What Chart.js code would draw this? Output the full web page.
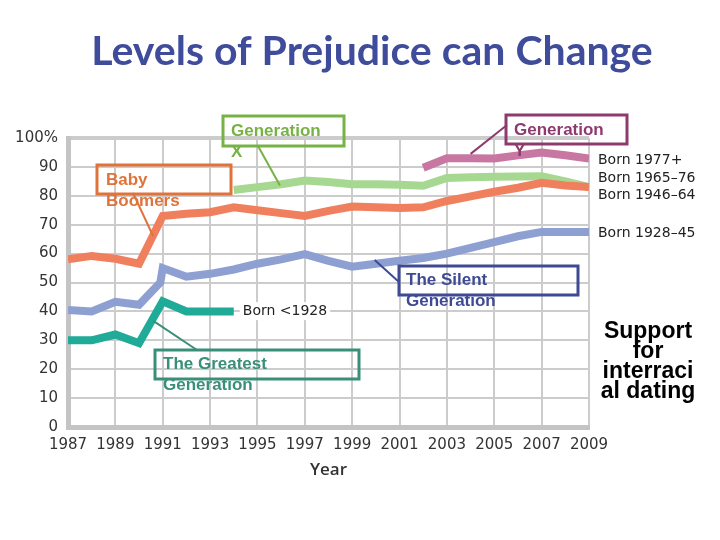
<!DOCTYPE html>
<html>
<head>
<meta charset="utf-8">
<script src="https://cdn.jsdelivr.net/npm/chart.js@4"></script>
<style>
  html, body { margin: 0; padding: 0; background: #fff; }
</style>
</head>
<body>
<canvas id="chart" width="720" height="540"></canvas>
<script>
// tick labels
const xTicks = [1987, 1989, 1991, 1993, 1995, 1997, 1999, 2001, 2003, 2005, 2007, 2009];

// Born <1928
const greatestYears = [1987, 1988, 1989, 1990, 1991, 1992, 1993, 1994];
const greatestVals = [30, 30, 32, 29, 43.5, 40, 40, 40];

// Born 1928-45
const silentYears = [1987, 1988, 1989, 1990, 1990.9, 1991, 1992, 1993, 1994, 1995, 1996, 1997, 1998, 1999, 2000, 2001, 2002, 2003, 2004, 2005, 2006, 2007, 2008, 2009];
const silentVals = [40.5, 40, 43.3, 42.3, 50, 55, 52, 53, 54.5, 56.5, 58, 59.8, 57.5, 55.5, 56.5, 57.5, 58.5, 60, 62, 64, 66, 67.5, 67.5, 67.5];

// Born 1946-64
const boomerYears = [1987, 1988, 1989, 1990, 1991, 1992, 1993, 1994, 1995, 1996, 1997, 1998, 1999, 2000, 2001, 2002, 2003, 2004, 2005, 2006, 2007, 2008, 2009];
const boomerVals = [58, 59.2, 58.2, 56.5, 73, 73.8, 74.3, 76, 75, 74, 73, 74.8, 76.3, 76, 75.8, 76, 78.2, 79.8, 81.4, 82.8, 84.5, 83.6, 83];

// Born 1965-76
const genXYears = [1994, 1995, 1996, 1997, 1998, 1999, 2000, 2001, 2002, 2003, 2004, 2005, 2006, 2007, 2008, 2009];
const genXVals = [82, 83, 84, 85.3, 84.8, 84, 84, 83.8, 83.5, 86.2, 86.4, 86.6, 86.7, 86.8, 85, 83];

// Born 1977+
const genYYears = [2002, 2003, 2004, 2005, 2006, 2007, 2008, 2009];
const genYVals = [89.7, 93, 93, 92.9, 94, 95, 94, 92.9];

function pts(xs, ys) {
  return xs.map((x, i) => ({ x: x, y: ys[i] }));
}

function series(label, xs, ys, color) {
  return {
    label: label,
    data: pts(xs, ys),
    borderColor: color,
    backgroundColor: color,
    borderWidth: 8,
    pointRadius: 0,
    tension: 0,
    fill: false,
  };
}

// right-hand line labels: [text, year, value]
const endLabels = [
  ['Born 1977+', 2009, 92.4],
  ['Born 1965\u201376', 2009, 86.2],
  ['Born 1946\u201364', 2009, 80.3],
  ['Born 1928\u201345', 2009, 67.1],
  ['Born <1928', 1994, 40.1],
];

// callout boxes
const callouts = [
  { lines: ['Generation', 'X'], color: '#77b244', box: [223, 116, 121, 30], tx: 231, ty: 131, from: [258, 146], to: [1995.95, 83.6] },
  { lines: ['Baby', 'Boomers'], color: '#e0733a', box: [97, 165, 134, 29], tx: 106, ty: 180, from: [133, 193], to: [1990.6, 66] },
  { lines: ['Generation', 'Y'], color: '#8e3a6e', box: [506, 115, 121, 29], tx: 514, ty: 130, from: [507, 125], to: [2004, 94.5] },
  { lines: ['The Silent', 'Generation'], color: '#3f4a94', box: [399, 266, 179, 29], tx: 406, ty: 280, from: [399, 282], to: [1999.95, 57.8] },
  { lines: ['The Greatest', 'Generation'], color: '#3a8f78', box: [155, 350, 204, 29], tx: 163, ty: 364, from: [197, 350], to: [1990.6, 36.7] },
];

const overlay = {
  id: 'overlay',
  afterDraw(chart) {
    const ctx = chart.ctx;
    const xs = chart.scales.x;
    const ys = chart.scales.y;
    ctx.save();

    ctx.font = 'bold 41px Lato';
    ctx.fillStyle = '#3f4b9b';
    ctx.textAlign = 'center';
    ctx.textBaseline = 'middle';
    ctx.fillText('Levels of Prejudice can Change', 372, 52);

    ctx.font = '14px "DejaVu Sans"';
    ctx.textAlign = 'left';
    endLabels.forEach(l => {
      const px = xs.getPixelForValue(l[1]) + 9;
      const py = ys.getPixelForValue(l[2]);
      const w = ctx.measureText(l[0]).width;
      ctx.fillStyle = '#fff';
      ctx.fillRect(px - 3, py - 9, w + 6, 18);
      ctx.fillStyle = '#222';
      ctx.fillText(l[0], px, py);
    });

    callouts.forEach(c => {
      ctx.strokeStyle = c.color;
      ctx.lineWidth = 3;
      ctx.strokeRect(c.box[0], c.box[1], c.box[2], c.box[3]);
      ctx.lineWidth = 2;
      ctx.beginPath();
      ctx.moveTo(c.from[0], c.from[1]);
      ctx.lineTo(xs.getPixelForValue(c.to[0]), ys.getPixelForValue(c.to[1]));
      ctx.stroke();
      ctx.fillStyle = c.color;
      ctx.font = 'bold 17px "Liberation Sans"';
      c.lines.forEach((t, i) => ctx.fillText(t, c.tx, c.ty + i * 21));
    });

    ctx.fillStyle = '#000';
    ctx.font = 'bold 23px "Liberation Sans"';
    ctx.textAlign = 'center';
    ['Support', 'for', 'interraci', 'al dating'].forEach((t, i) => ctx.fillText(t, 648, 332 + i * 20));
    ctx.restore();
  }
};

new Chart(document.getElementById('chart'), {
  type: 'line',
  data: {
    datasets: [
      series('Born <1928', greatestYears, greatestVals, '#1fab97'),
      series('Born 1928-45', silentYears, silentVals, '#8e9fd2'),
      series('Born 1946-64', boomerYears, boomerVals, '#f07f5e'),
      series('Born 1965-76', genXYears, genXVals, '#a7d891'),
      series('Born 1977+', genYYears, genYVals, '#c877a3'),
    ],
  },
  options: {
    responsive: false,
    animation: false,
    layout: { padding: { left: 0, right: 131, top: 138, bottom: 58 } },
    plugins: { legend: { display: false }, tooltip: { enabled: false } },
    scales: {
      x: {
        type: 'linear',
        min: 1987,
        max: 2009,
        afterBuildTicks: s => { s.ticks = xTicks.map(v => ({ value: v })); },
        afterFit: s => { s.height = 55; },
        grid: { color: '#cccccc', lineWidth: 2, drawTicks: false },
        border: { color: '#c4c4c4', width: 5 },
        ticks: { font: { family: 'DejaVu Sans', size: 15 }, color: '#333', padding: 9, maxRotation: 0, autoSkip: false,
          callback: v => String(v) },
        title: { display: true, text: 'Year', font: { family: 'Open Sans', size: 17, weight: '600' }, color: '#333', padding: { top: 0, bottom: 2 } },
      },
      y: {
        min: 0,
        max: 100,
        afterFit: s => { s.width = 68; },
        grid: { color: '#cccccc', lineWidth: c => (c.tick && c.tick.value === 100 ? 4 : 2), drawTicks: false },
        border: { color: '#c4c4c4', width: 5 },
        ticks: { stepSize: 10, font: { family: 'DejaVu Sans', size: 15 }, color: '#333', padding: 10,
          callback: v => (v === 100 ? '100%' : v) },
      },
    },
  },
  plugins: [overlay],
});
</script>
</body>
</html>
